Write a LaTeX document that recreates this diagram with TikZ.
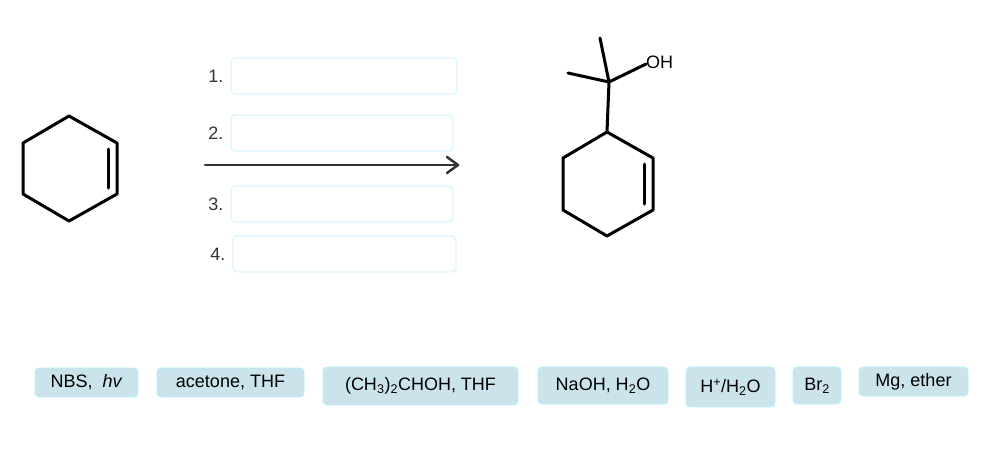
\documentclass[tikz,border=0pt]{standalone}
\usepackage{fontspec}
\setmainfont{Liberation Sans}
\begin{document}
\begin{tikzpicture}[x=1pt,y=-1pt,
  bond/.style={line width=3pt,line cap=round,line join=round,black},
  inbox/.style={draw=blue!20!cyan!25!white,line width=0.8pt,rounded corners=4pt},
  chip/.style={fill=blue!25!cyan!15!white!85!gray,draw=blue!20!cyan!30!white,line width=0.8pt,rounded corners=4pt,inner sep=0pt,font=\fontsize{18}{20}\selectfont},
  num/.style={font=\fontsize{18}{20}\selectfont,text=black!80}]
\useasboundingbox (0,0) rectangle (998,456);
% left cyclohexene
\draw[bond] (69,116)--(117,143)--(117,194)--(69,221)--(23,194)--(23,143)--cycle;
\draw[bond] (108,149)--(108,188);
% inputs
\foreach \i/\a/\b/\c/\d in {1/231/58/457/94, 2/231/115/453/151, 3/231/186/453/222, 4/233/236/456/272}{
  \draw[inbox] (\a,\b) rectangle (\c,\d);
  \node[num,anchor=east] (n\i) at (\a-4,{(\b+\d)/2}) {\i.};
}
\coordinate (as) at (205,165);
\coordinate (ae) at (458,165);
\draw[line width=2.5pt,black!80,line cap=round] (as)--(ae);
\draw[line width=2.5pt,black!80,line cap=round,line join=round] (447,157)--(458,165)--(447,173);
% product
\draw[bond] (607,132)--(653,158)--(653,210)--(607,236)--(563,210)--(563,158)--cycle;
\draw[bond] (644,164)--(644,204);
\coordinate (c0) at (609,82);
\draw[bond] (607,132)--(c0);
\draw[bond] (c0)--(600,38);
\draw[bond] (c0)--(568,73);
\draw[bond] (c0)--(646,64);
\node[num,anchor=west,inner sep=0pt,text=black] (oh) at (646,62) {OH};
% chips
\foreach \n/\a/\b/\c/\d/\t in {
 c1/35/368/138/397/{NBS,\ \ \textit{hv}},
 c2/157/368/304/397/{acetone, THF},
 c3/323/367/518/405/{(CH\textsubscript{3})\textsubscript{2}CHOH, THF},
 c4/538/367/668/404/{NaOH, H\textsubscript{2}O},
 c5/686/367/775/407/{H\textsuperscript{+}/H\textsubscript{2}O},
 c6/793/367/841/404/{Br\textsubscript{2}},
 c7/859/367/968/396/{Mg, ether}}{
  \draw[chip] (\a,\b) rectangle (\c,\d);
  \node[inner sep=0pt,font=\fontsize{18}{20}\selectfont] (\n) at ({(\a+\c)/2},{(\b+\d)/2}) {\t};
}
\end{tikzpicture}
\end{document}
